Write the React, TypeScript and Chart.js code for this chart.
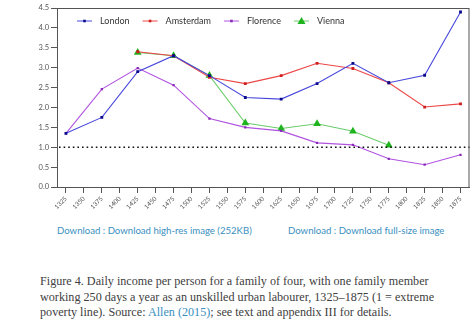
import React, { useEffect, useRef } from "react";
import { Chart, registerables } from "chart.js";
Chart.register(...registerables);

const TICK_YEARS = [
  "1325", "1350", "1375", "1400", "1425", "1450", "1475", "1500", "1525", "1550", "1575", "1600",
  "1625", "1650", "1675", "1700", "1725", "1750", "1775", "1800", "1825", "1850", "1875",
];
const Y_TICKS = [0, 0.5, 1, 1.5, 2, 2.5, 3, 3.5, 4, 4.5];
const POVERTY_LINE = 1;

const LONDON_YEARS = ["1325", "1375", "1425", "1475", "1525", "1575", "1625", "1675", "1725", "1775", "1825", "1875"];
const LONDON = [1.35, 1.75, 2.9, 3.3, 2.8, 2.25, 2.21, 2.6, 3.11, 2.62, 2.81, 4.4];

const AMSTERDAM_YEARS = ["1425", "1475", "1525", "1575", "1625", "1675", "1725", "1775", "1825", "1875"];
const AMSTERDAM = [3.4, 3.3, 2.76, 2.6, 2.8, 3.11, 2.98, 2.62, 2.01, 2.09];

const FLORENCE_YEARS = ["1325", "1375", "1425", "1475", "1525", "1575", "1625", "1675", "1725", "1775", "1825", "1875"];
const FLORENCE = [1.35, 2.46, 2.99, 2.56, 1.72, 1.5, 1.41, 1.11, 1.06, 0.71, 0.56, 0.81];

const VIENNA_YEARS = ["1425", "1475", "1525", "1575", "1625", "1675", "1725", "1775"];
const VIENNA = [3.38, 3.3, 2.8, 1.61, 1.47, 1.59, 1.4, 1.05];

const pts = (xs: string[], ys: number[]) => xs.map((x, i) => ({ x, y: ys[i] }));

const SERIES = [
  { label: "London", xs: LONDON_YEARS, ys: LONDON, line: "#4646dc", point: "#0a0a8c", style: "rect", r: 2 },
  { label: "Amsterdam", xs: AMSTERDAM_YEARS, ys: AMSTERDAM, line: "#ec4646", point: "#d01e1e", style: "rect", r: 2 },
  { label: "Florence", xs: FLORENCE_YEARS, ys: FLORENCE, line: "#b052e0", point: "#8a2ab8", style: "rect", r: 1.6 },
  { label: "Vienna", xs: VIENNA_YEARS, ys: VIENNA, line: "#6ccc6c", point: "#1eb41e", style: "triangle", r: 4.5 },
];

const framePlugin = {
  id: "frame",
  afterDatasetsDraw(chart: any) {
    const { ctx, chartArea: a, scales } = chart;
    ctx.save();
    const y = scales.y.getPixelForValue(POVERTY_LINE);
    ctx.strokeStyle = "#111";
    ctx.lineWidth = 1.4;
    ctx.setLineDash([1.6, 3]);
    ctx.beginPath();
    ctx.moveTo(a.left + 2, y);
    ctx.lineTo(a.right, y);
    ctx.stroke();
    ctx.setLineDash([]);
    ctx.strokeStyle = "#555";
    ctx.lineWidth = 1;
    ctx.strokeRect(a.left + 0.5, a.top + 0.5, a.right - a.left - 1, a.bottom - a.top);
    ctx.font = "9px Lato";
    ctx.textBaseline = "middle";
    let x = a.left + 20;
    const ly = a.top + 13;
    SERIES.forEach((s) => {
      ctx.strokeStyle = s.line;
      ctx.lineWidth = 1;
      ctx.beginPath();
      ctx.moveTo(x, ly);
      ctx.lineTo(x + 15, ly);
      ctx.stroke();
      const cx = x + 7.5;
      ctx.fillStyle = s.point;
      if (s.style === "triangle") {
        ctx.beginPath();
        ctx.moveTo(cx, ly - 4);
        ctx.lineTo(cx + 4, ly + 3);
        ctx.lineTo(cx - 4, ly + 3);
        ctx.closePath();
        ctx.fill();
      } else {
        ctx.fillRect(cx - 1.3, ly - 1.3, 2.6, 2.6);
      }
      ctx.fillStyle = "#333";
      ctx.fillText(s.label, x + 23, ly);
      x += 23 + ctx.measureText(s.label).width + 13;
    });
    ctx.restore();
  },
};

export default function App() {
  const ref = useRef<HTMLCanvasElement>(null);
  useEffect(() => {
    if (!ref.current) return;
    const chart = new Chart(ref.current, {
      type: "line",
      data: {
        labels: TICK_YEARS,
        datasets: SERIES.map((s) => ({
          label: s.label,
          data: pts(s.xs, s.ys) as any,
          borderColor: s.line,
          backgroundColor: s.point,
          pointBackgroundColor: s.point,
          pointBorderColor: s.point,
          pointStyle: s.style as any,
          pointRadius: s.r,
          pointBorderWidth: 0,
          borderWidth: 1.1,
          tension: 0,
          fill: false,
        })),
      },
      options: {
        animation: false,
        responsive: false,
        layout: { padding: { top: 8, right: 3, left: 0, bottom: 0 } },
        plugins: { legend: { display: false }, tooltip: { enabled: false } },
        scales: {
          x: {
            type: "category",
            offset: true,
            grid: { display: true, drawOnChartArea: false, drawTicks: true, tickLength: 6, color: "#555" },
            border: { display: true, color: "#555" },
            ticks: {
              autoSkip: false,
              minRotation: 45,
              maxRotation: 45,
              padding: 2,
              color: "#555",
              font: { size: 6.3, family: "Lato" },
            },
            afterFit: (s: any) => {
              s.height = 28;
            },
          },
          y: {
            min: 0,
            max: 4.5,
            afterBuildTicks: (s: any) => {
              s.ticks = Y_TICKS.map((v) => ({ value: v }));
            },
            grid: { display: true, drawOnChartArea: false, drawTicks: true, tickLength: 6, color: "#555" },
            border: { display: true, color: "#555" },
            ticks: {
              color: "#555",
              padding: 2,
              font: { size: 7.5, family: "Lato" },
              callback: (v: any) => Number(v).toFixed(1),
            },
            afterFit: (s: any) => {
              s.width = 57;
            },
          },
        },
      },
      plugins: [framePlugin],
    });
    return () => chart.destroy();
  }, []);

  return (
    <div style={{ position: "absolute", left: 0, top: 0, width: 474, height: 335, background: "#fff" }}>
      <canvas ref={ref} width={474} height={215} style={{ position: "absolute", left: 0, top: 0 }} />
      <div
        style={{
          position: "absolute",
          top: 225,
          left: 57,
          font: "9.6px Lato",
          color: "#3a8fbf",
          whiteSpace: "nowrap",
        }}
      >
        Download : Download high-res image (252KB)
      </div>
      <div
        style={{
          position: "absolute",
          top: 225,
          left: 288,
          font: "9.6px Lato",
          color: "#3a8fbf",
          whiteSpace: "nowrap",
        }}
      >
        Download : Download full-size image
      </div>
      <div
        style={{
          position: "absolute",
          top: 274,
          left: 40,
          font: "12.15px 'Liberation Serif'",
          lineHeight: "15.5px",
          color: "#404040",
          whiteSpace: "nowrap",
        }}
      >
        Figure 4. Daily income per person for a family of four, with one family member
        <br />
        working 250 days a year as an unskilled urban labourer, 1325–1875 (1 = extreme
        <br />
        poverty line). Source: <span style={{ color: "#3a8fbf" }}>Allen (2015)</span>; see text and appendix III for
        details.
      </div>
    </div>
  );
}
